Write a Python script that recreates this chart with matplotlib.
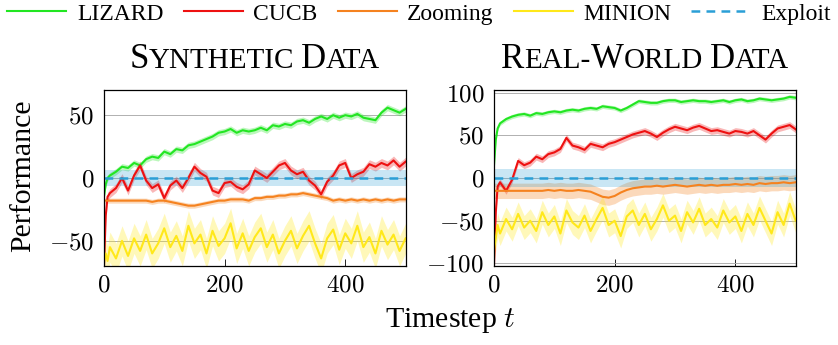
import matplotlib
matplotlib.use("Agg")
import matplotlib.pyplot as plt
from matplotlib.ticker import FuncFormatter

plt.rcParams['font.family'] = ['Liberation Serif', 'DejaVu Serif']
plt.rcParams['mathtext.fontset'] = 'cm'

# x positions (timesteps)
timesteps = [0, 3, 6] + list(range(10, 501, 10))

methods = ['LIZARD', 'CUCB', 'Zooming', 'MINION', 'Exploit']
colors = ['#22e622', '#ee1111', '#f5821f', '#ffe81a', '#2a9fd6']

# synthetic data
syn_lizard = [-15, -5, 0, 2, 5, 9, 8, 12, 10, 15, 17, 16, 21, 19, 23, 22, 26, 27,
              29, 31, 33, 36, 37, 39, 36, 38, 37, 38, 40, 38, 42, 41, 43, 42, 45,
              46, 44, 47, 49, 47, 50, 48, 50, 49, 51, 48, 47, 46, 52, 56, 54, 52, 55]
syn_cucb = [-72, -30, -15, -12, -8, 0, -10, 2, 10, -2, -8, -5, -16, -6, -2, -8, 0, 9,
            4, 1, -10, -12, -4, -3, -7, -9, -5, 6, 3, 0, 5, 10, 12, 6, 3, 5, -2, -6,
            -13, -3, 2, 10, 12, 0, 3, 5, 11, 9, 12, 10, 14, 9, 13]
syn_zooming = [-18, -18, -18, -18, -18, -18, -18, -18, -18, -18, -19, -18, -18, -19,
               -20, -21, -22, -22, -21, -20, -19, -18, -18, -17, -17, -17, -18, -16,
               -16, -15, -15, -14, -14, -13, -13, -12, -13, -14, -15, -16, -18, -17,
               -18, -17, -18, -17, -18, -17, -18, -17, -18, -17, -17]
syn_minion = [-68, -60, -66, -55, -64, -50, -62, -48, -58, -45, -60, -52, -40, -55,
              -46, -58, -38, -52, -45, -60, -42, -54, -48, -36, -56, -44, -58, -47,
              -40, -55, -45, -60, -50, -42, -56, -46, -38, -52, -64, -48, -41, -57,
              -44, -52, -38, -55, -47, -60, -42, -53, -45, -58, -48]
syn_exploit = 0.0
syn_spread = [2.5, 3.5, 2.0, 12.0, 6.0]

# real-world data
real_lizard = [15, 45, 58, 64, 69, 72, 74, 75, 73, 76, 75, 77, 78, 77, 79, 80, 79, 81,
               82, 81, 84, 83, 82, 79, 82, 86, 90, 89, 88, 88, 90, 91, 91, 89, 90, 91,
               90, 90, 89, 90, 91, 89, 91, 92, 90, 91, 93, 92, 91, 92, 93, 95, 94]
real_cucb = [-102, -40, -10, -5, -15, -2, 20, 15, 18, 25, 22, 28, 30, 34, 47, 38, 36,
             33, 40, 38, 36, 40, 42, 45, 48, 51, 53, 55, 52, 48, 53, 57, 60, 58, 56,
             59, 61, 58, 55, 56, 54, 52, 55, 54, 52, 55, 50, 45, 52, 58, 60, 62, 57]
real_zooming = [-15, -15, -15, -15, -15, -15, -15, -15, -15, -15, -15, -14, -15, -14,
                -15, -15, -14, -15, -16, -19, -22, -23, -21, -17, -14, -12, -11, -10,
                -10, -9, -10, -9, -8, -9, -10, -9, -8, -9, -8, -9, -8, -8, -7, -8, -7,
                -8, -6, -7, -6, -6, -5, -6, -5]
real_minion = [-85, -70, -55, -65, -48, -60, -42, -58, -50, -62, -40, -55, -45, -65,
               -38, -52, -58, -44, -62, -48, -35, -55, -50, -68, -45, -38, -55, -42,
               -60, -48, -32, -50, -44, -62, -40, -52, -36, -55, -48, -58, -38, -52,
               -45, -62, -42, -55, -35, -50, -65, -40, -55, -30, -50]
real_exploit = 0.0
real_spread = [2.5, 4.0, 9.0, 14.0, 10.0]

fig = plt.figure(figsize=(8.38, 3.45), dpi=100)
ax1 = fig.add_axes([0.124, 0.229, 0.360, 0.510])
ax2 = fig.add_axes([0.5895, 0.229, 0.360, 0.510])


def draw_panel(ax, series, exploit, spread, ylim, yticks):
    handles = []
    for vals, c, s in zip(series, colors[:4], spread[:4]):
        lo = [v - s for v in vals]
        hi = [v + s for v in vals]
        ax.fill_between(timesteps, lo, hi, color=c, alpha=0.3, lw=0)
        h, = ax.plot(timesteps, vals, color=c, lw=1.5)
        handles.append(h)
    ax.axhspan(exploit - spread[4], exploit + spread[4], color=colors[4], alpha=0.25, lw=0)
    h = ax.axhline(exploit, color=colors[4], lw=1.8, dashes=(3.5, 2.5))
    handles.append(h)
    ax.set_xlim(0, 500)
    ax.set_ylim(*ylim)
    ax.set_xticks([0, 200, 400])
    ax.set_yticks(yticks)
    ax.yaxis.grid(True, color='#b0b0b0', lw=0.7)
    ax.set_axisbelow(True)
    fmt = FuncFormatter(lambda v, p: '$%d$' % v)
    ax.xaxis.set_major_formatter(fmt)
    ax.yaxis.set_major_formatter(fmt)
    ax.tick_params(axis='x', direction='in', length=5, width=0.6, pad=6, labelsize=18)
    ax.tick_params(axis='y', direction='in', length=0, pad=7, labelsize=18)
    for sp in ax.spines.values():
        sp.set_linewidth(0.9)
    return handles


handles = draw_panel(ax1, [syn_lizard, syn_cucb, syn_zooming, syn_minion],
                     syn_exploit, syn_spread, (-70, 70), [-50, 0, 50])
draw_panel(ax2, [real_lizard, real_cucb, real_zooming, real_minion],
           real_exploit, real_spread, (-103, 103), [-100, -50, 0, 50, 100])


def smallcaps_title(ax, parts, big=25, small=21, y=1.125):
    first = prev = None
    for word, is_big, gap in parts:
        size = big if is_big else small
        if prev is None:
            prev = ax.text(0, y, word, transform=ax.transAxes, fontsize=size,
                           va='baseline', ha='left')
            first = prev
        else:
            prev = ax.annotate(word, xy=(1, y), xycoords=(prev, ax.transAxes),
                               xytext=(gap, 0), textcoords='offset points',
                               fontsize=size, va='baseline', ha='left')
    return first, prev


t1 = smallcaps_title(ax1, [('S', 1, 0), ('YNTHETIC', 0, 0), ('D', 1, 5), ('ATA', 0, 0)])
t2 = smallcaps_title(ax2, [('R', 1, 0), ('EAL-', 0, 0), ('W', 1, 0), ('ORLD', 0, 0),
                           ('D', 1, 5), ('ATA', 0, 0)])

fig.legend(handles, methods, ncol=5, loc='upper center', bbox_to_anchor=(0.5, 1.025),
           frameon=False, fontsize=17, handlelength=2.5, handletextpad=0.45,
           columnspacing=0.85, borderaxespad=0.1)

fig.text(0.537, 0.072, 'Timestep $t$', ha='center', va='center', fontsize=21.5)
fig.text(0.028, 0.49, 'Performance', ha='center', va='center', rotation=90, fontsize=21.5)

# center the small-caps titles over their axes
fig.canvas.draw()
for ax, (first, last) in [(ax1, t1), (ax2, t2)]:
    r = fig.canvas.get_renderer()
    x0 = first.get_window_extent(r).x0
    x1 = last.get_window_extent(r).x1
    bb = ax.get_window_extent(r)
    shift = (bb.x0 + bb.x1) / 2 - (x0 + x1) / 2
    first.set_x(shift / bb.width)

fig.savefig('out.png', dpi=100)
